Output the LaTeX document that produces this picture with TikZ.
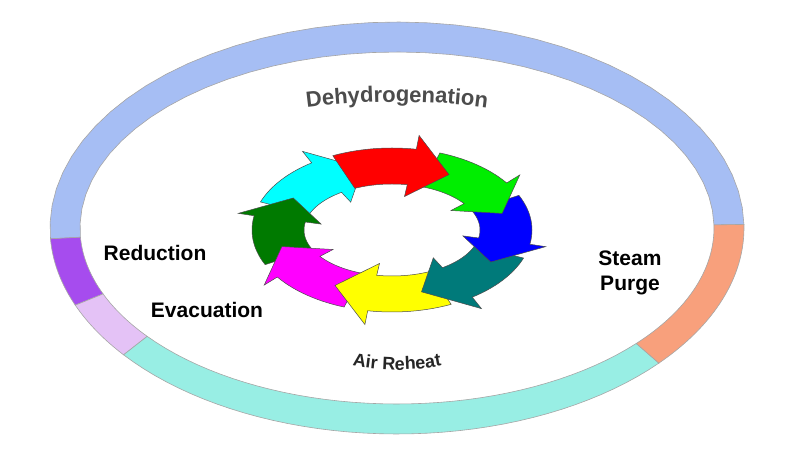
\documentclass[tikz,border=0pt]{standalone}
\usepackage{fontspec}
\setmainfont{Liberation Sans}
\usetikzlibrary{decorations.text}
\definecolor{rblue}{HTML}{A6BEF4}
\definecolor{rorange}{HTML}{F8A07C}
\definecolor{rcyan}{HTML}{98EEE4}
\definecolor{rlpur}{HTML}{E4C2F6}
\definecolor{rpur}{HTML}{A64CEE}
\definecolor{adg}{HTML}{007A00}
\definecolor{ateal}{HTML}{007A7A}
\definecolor{acyan}{HTML}{00FFFF}
\definecolor{amag}{HTML}{FF00FF}
\definecolor{ared}{HTML}{FF0000}
\definecolor{agreen}{HTML}{00EE00}
\definecolor{ablue}{HTML}{0000FF}
\definecolor{ayel}{HTML}{FFFF00}
\tikzset{seg/.style={draw=gray!70,line width=0.6pt},
 lbl/.style={font=\fontsize{21}{25}\selectfont\bfseries,align=center},
 arr/.style={draw=gray!60!black,line width=0.5pt}}
\newcommand\ringseg[3]{\filldraw[seg,fill=#3] plot[domain=#1:#2,samples=40] ({397+347*cos(\x)},{230+206*sin(\x)}) -- plot[domain=#2:#1,samples=40] ({397+317*cos(\x)},{230+176*sin(\x)}) -- cycle;}
\newcommand\cyarr[2]{\filldraw[arr,fill=#2] plot[domain=#1:#1-35,samples=15] ({392+140*cos(\x)},{228+82*sin(\x)}) -- ({392+156*cos(#1-35)},{228+96*sin(#1-35)}) -- ({392+114*cos(#1-55)},{228+64*sin(#1-55)}) -- ({392+72*cos(#1-35)},{228+34*sin(#1-35)}) -- plot[domain=#1-35:#1,samples=15] ({392+88*cos(\x)},{228+46*sin(\x)}) -- cycle;}
\begin{document}
\begin{tikzpicture}[x=1pt,y=1pt]
\useasboundingbox (0,0) rectangle (785,458);
\ringseg{1}{183}{rblue}
\ringseg{183}{202}{rpur}
\ringseg{202}{218}{rlpur}
\ringseg{218}{319}{rcyan}
\ringseg{319}{361}{rorange}
\path[decorate,decoration={text along path,text align=center,text={|\fontsize{22}{26}\selectfont\bfseries\color{gray!60!black}|Dehydrogenation}}] plot[domain=125:55,samples=40] ({397+300*cos(\x)},{230+126*sin(\x)});
\path[decorate,decoration={text along path,text align=center,text={|\fontsize{18}{21}\selectfont\bfseries\color{black!85}|Air Reheat}}] plot[domain=235:305,samples=40] ({397+180*cos(\x)},{230+142*sin(\x)});
\cyarr{160}{acyan}
\cyarr{205}{adg}
\cyarr{250}{amag}
\cyarr{295}{ayel}
\cyarr{340}{ateal}
\cyarr{25}{ablue}
\cyarr{70}{agreen}
\cyarr{115}{ared}
\node[lbl] (red) at (155,205) {Reduction};
\node[lbl] (eva) at (207,148) {Evacuation};
\node[lbl] (stm) at (630,185) {Steam\\Purge};
\end{tikzpicture}
\end{document}
